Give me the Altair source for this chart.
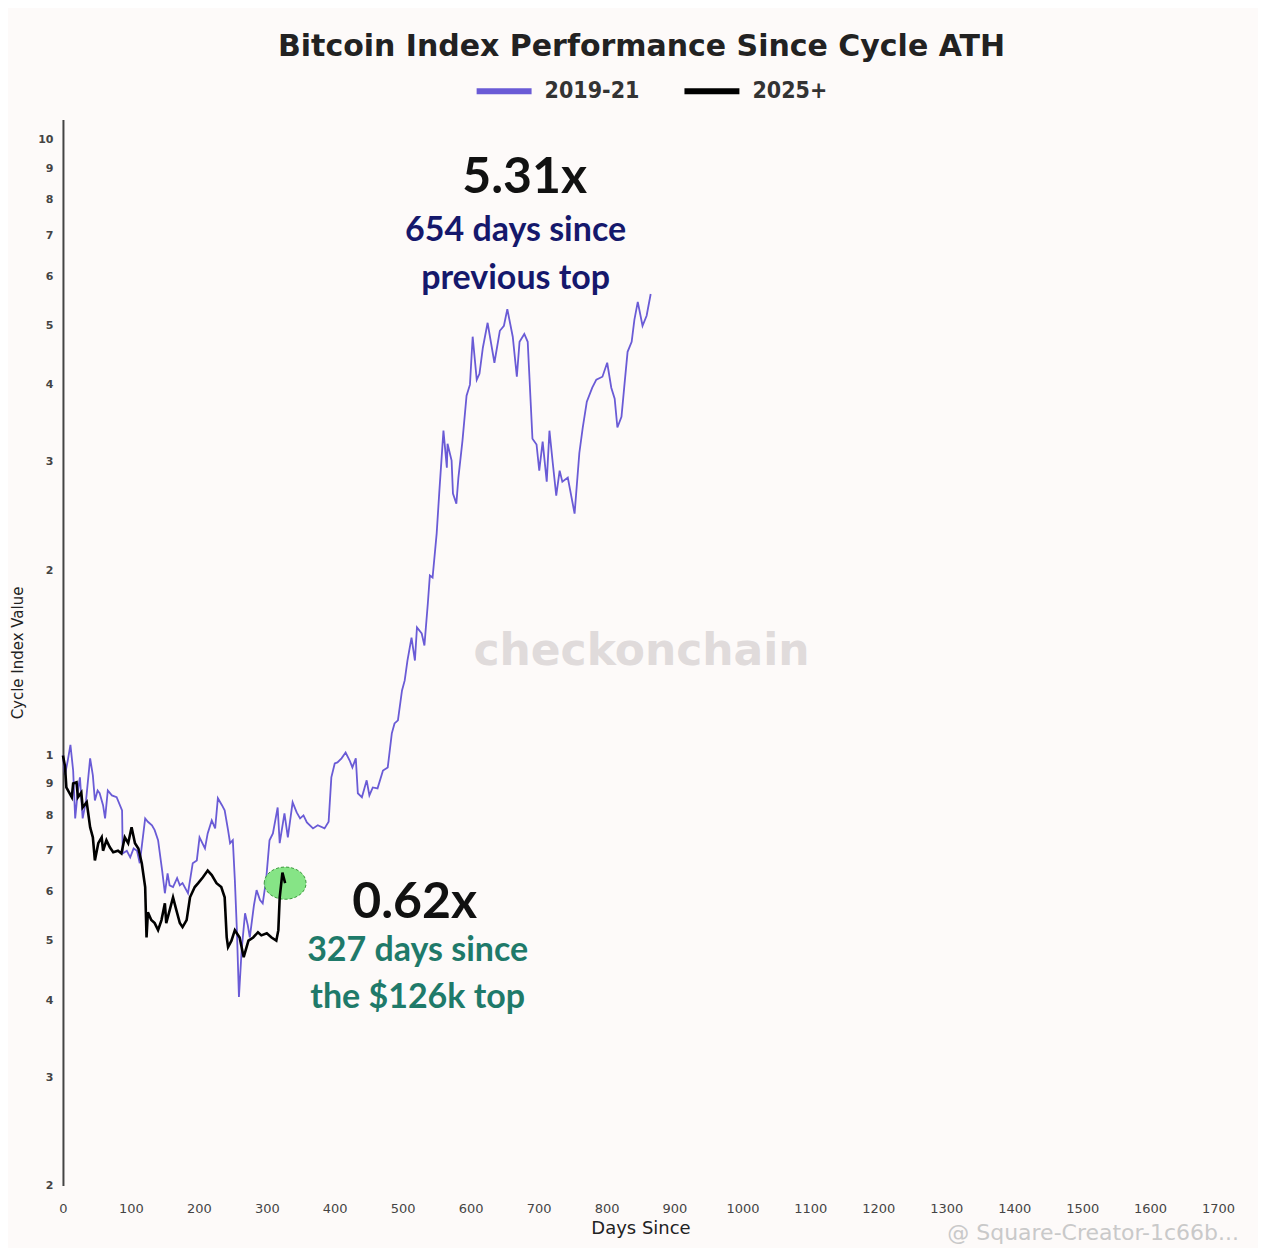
import altair as alt
import pandas as pd

# ---------------- data ----------------
series_names = ["2019-21", "2025+"]
series_colors = ["#6a5bd6", "#000000"]

purple_days = [0, 3, 7, 11, 15, 18, 22, 25, 29, 34, 40, 44, 47, 51, 54, 59, 62, 66, 72, 79,
               87, 88, 94, 99, 104, 109, 113, 121, 125, 131, 135, 140, 146, 150, 154, 157, 162,
               168, 172, 176, 184, 191, 197, 201, 209, 213, 219, 224, 228, 234, 238, 243, 246,
               250, 253, 256, 259, 263, 268, 272, 275, 281, 285, 290, 294, 299, 304, 309, 316,
               319, 326, 331, 338, 344, 349, 354, 359, 368, 375, 385, 391, 395, 400, 404, 410,
               416, 422, 426, 431, 434, 440, 447, 451, 456, 463, 471, 478, 484, 488, 493, 499,
               503, 507, 513, 518, 521, 528, 532, 537, 540, 544, 550, 554, 560, 565, 566, 572,
               574, 579, 582, 588, 594, 599, 603, 609, 613, 618, 625, 635, 643, 649, 654, 662,
               668, 672, 679, 684, 691, 697, 701, 706, 712, 716, 721, 726, 731, 735, 743, 753,
               760, 765, 771, 779, 785, 794, 801, 807, 812, 816, 822, 826, 831, 837, 841, 846,
               853, 859, 865]
purple_values = [1.0, 0.93, 0.98, 1.04, 0.945, 0.79, 0.877, 0.921, 0.79, 0.845, 0.989, 0.928,
                 0.845, 0.877, 0.868, 0.83, 0.79, 0.877, 0.861, 0.855, 0.814, 0.693, 0.70, 0.683,
                 0.706, 0.70, 0.668, 0.79, 0.78, 0.77, 0.756, 0.728, 0.65, 0.597, 0.643, 0.615,
                 0.611, 0.632, 0.615, 0.62, 0.597, 0.668, 0.675, 0.736, 0.706, 0.747, 0.784,
                 0.761, 0.852, 0.83, 0.814, 0.756, 0.72, 0.728, 0.627, 0.52, 0.405, 0.483, 0.554,
                 0.53, 0.506, 0.57, 0.604, 0.582, 0.575, 0.627, 0.728, 0.747, 0.823, 0.72, 0.805,
                 0.736, 0.839, 0.808, 0.79, 0.799, 0.778, 0.761, 0.77, 0.761, 0.78, 0.921, 0.97,
                 0.974, 0.989, 1.011, 0.981, 0.956, 0.989, 0.868, 0.855, 0.911, 0.861, 0.887,
                 0.884, 0.945, 0.956, 1.086, 1.127, 1.14, 1.275, 1.324, 1.426, 1.554, 1.426,
                 1.614, 1.578, 1.509, 1.765, 1.96, 1.945, 2.293, 2.69, 3.37, 2.935, 3.21, 3.013,
                 2.663, 2.565, 2.827, 3.246, 3.84, 4.003, 4.79, 4.078, 4.17, 4.596, 5.046, 4.345,
                 4.897, 4.99, 5.31, 4.79, 4.124, 4.70, 4.84, 4.70, 3.27, 3.20, 2.902, 3.234,
                 2.785, 3.37, 2.978, 2.643, 2.902, 2.785, 2.827, 2.471, 3.10, 3.41, 3.756, 3.958,
                 4.078, 4.124, 4.345, 3.958, 3.798, 3.41, 3.55, 3.958, 4.527, 4.70, 5.10, 5.458,
                 4.99, 5.18, 5.62]

black_days = [0, 3, 5, 13, 15, 20, 22, 27, 29, 35, 40, 44, 47, 52, 57, 59, 64, 69, 74, 81, 86,
              91, 96, 101, 106, 111, 116, 121, 123, 125, 130, 135, 140, 145, 150, 152, 157, 162,
              167, 172, 176, 182, 187, 194, 199, 206, 213, 219, 226, 233, 238, 241, 243, 248,
              253, 260, 266, 273, 280, 287, 292, 300, 307, 314, 317, 319, 323, 327]
black_values = [1.0, 0.96, 0.887, 0.855, 0.90, 0.904, 0.855, 0.87, 0.823, 0.839, 0.764, 0.736,
                0.675, 0.72, 0.736, 0.70, 0.728, 0.709, 0.696, 0.70, 0.693, 0.736, 0.72, 0.764,
                0.72, 0.706, 0.668, 0.611, 0.506, 0.556, 0.54, 0.534, 0.52, 0.54, 0.575, 0.534,
                0.56, 0.588, 0.56, 0.534, 0.526, 0.54, 0.588, 0.611, 0.62, 0.634, 0.65, 0.639,
                0.62, 0.611, 0.588, 0.506, 0.488, 0.50, 0.52, 0.506, 0.47, 0.50, 0.506, 0.516,
                0.51, 0.514, 0.506, 0.50, 0.52, 0.588, 0.645, 0.62]

x_ticks = list(range(0, 1800, 100))
y_ticks = [0.2, 0.3, 0.4, 0.5, 0.6, 0.7, 0.8, 0.9, 1, 2, 3, 4, 5, 6, 7, 8, 9, 10]

title_text = "Bitcoin Index Performance Since Cycle ATH"
top_mult = "5.31x"
top_lines = ["654 days since", "previous top"]
now_mult = "0.62x"
now_lines = ["327 days since", "the $126k top"]
watermark = "checkonchain"
credit = "@ Square-Creator-1c66b..."

# ---------------- frames ----------------
purple_df = pd.DataFrame({"day": purple_days, "value": purple_values, "series": series_names[0]})
black_df = pd.DataFrame({"day": black_days, "value": black_values, "series": series_names[1]})
marker_df = pd.DataFrame({"day": [black_days[-1]], "value": [black_values[-1]]})

W, H = 1156, 1067

x_enc = alt.X("day:Q", scale=alt.Scale(domain=[0, 1700], nice=False),
              axis=alt.Axis(values=x_ticks, format="d", title="Days Since", domain=False,
                            ticks=False, grid=False, labelFontSize=13, labelColor="#444",
                            labelPadding=17, labelFont="DejaVu Sans", titleFont="DejaVu Sans",
                            titleFontSize=18, titleFontWeight="normal", titleColor="#222",
                            titlePadding=4, labelFlush=False))
y_enc = alt.Y("value:Q", scale=alt.Scale(type="log", domain=[0.2, 10.8], nice=False),
              axis=alt.Axis(values=y_ticks, title="Cycle Index Value", ticks=False, grid=False,
                            domain=True, domainColor="#444", domainWidth=2,
                            labelExpr="datum.value >= 1 ? format(datum.value, 'd') : format(datum.value * 10, '.0f')",
                            labelFontSize=11, labelColor="#444", labelPadding=10,
                            labelFont="DejaVu Sans", labelFontWeight="bold",
                            titleFont="DejaVu Sans", titleFontSize=15,
                            titleFontWeight="normal", titleColor="#222", titlePadding=12))

color_enc = alt.Color("series:N",
                      scale=alt.Scale(domain=series_names, range=series_colors),
                      legend=alt.Legend(orient="none", legendX=411, legendY=-59,
                                        direction="horizontal", title=None,
                                        symbolType="stroke", symbolSize=3025,
                                        symbolStrokeWidth=6, labelFontSize=23,
                                        labelFont="DejaVu Sans Condensed", labelFontWeight="bold",
                                        labelColor="#333",
                                        labelOffset=10, columnPadding=33))

purple_line = alt.Chart(purple_df).mark_line(strokeWidth=1.8).encode(
    x=x_enc, y=y_enc, color=color_enc)
black_line = alt.Chart(black_df).mark_line(strokeWidth=2.6).encode(
    x=x_enc, y=y_enc, color=color_enc)

ellipse = alt.Chart(marker_df).mark_point(
    shape="M-1.3,0A1.3,1,0,1,1,1.3,0A1.3,1,0,1,1,-1.3,0Z",
    size=1040, filled=True, fill="#7fe37f", fillOpacity=0.95,
    stroke="#3f9a3f", strokeWidth=1, strokeDash=[3, 2], opacity=1
).encode(x="day:Q", y="value:Q")


def label(text, x, y, size, color, weight="bold", font="Lato"):
    return alt.Chart(pd.DataFrame({"t": [text]})).mark_text(
        font=font, fontSize=size, fontWeight=weight, color=color,
        align="center", baseline="middle"
    ).encode(text="t:N", x=alt.value(x), y=alt.value(y))


texts = [
    label(title_text, 579, -72, 30, "#222", font="DejaVu Sans"),
    label(top_mult, 462, 59, 50, "#111"),
    label(top_lines[0], 453, 112, 34, "#15186c"),
    label(top_lines[1], 453, 160, 34, "#15186c"),
    label(now_mult, 352, 784, 50, "#111"),
    label(now_lines[0], 355, 832, 34, "#1f7a6a"),
    label(now_lines[1], 355, 879, 34, "#1f7a6a"),
    label(watermark, 579, 533, 44, "#e0dbdb", font="DejaVu Sans"),
    label(credit, 1031, 1114, 22, "#c9c9c9", weight="normal", font="DejaVu Sans"),
]

chart = alt.layer(texts[7], purple_line, ellipse, black_line, *texts[:7], texts[8]).properties(
    width=W, height=H,
    background="#fdfaf9",
    padding={"left": 55, "top": 111, "right": 40, "bottom": 62},
    autosize=alt.AutoSizeParams(type="none"),
).configure_view(stroke=None)

chart.save("out.html", embed_options={"renderer": "svg", "actions": False})
